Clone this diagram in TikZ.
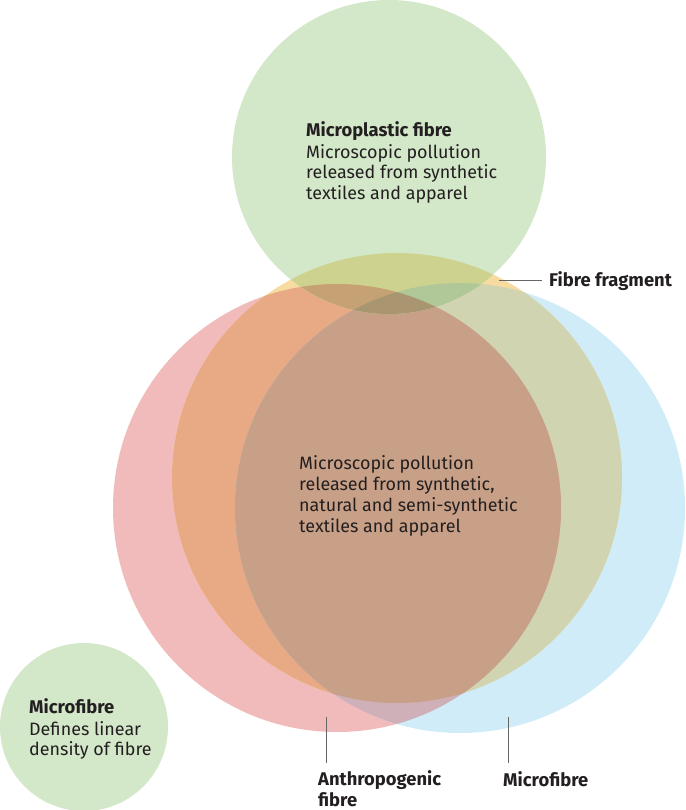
\documentclass[tikz,border=0pt]{standalone}
\usepackage{fontspec}
\setmainfont{Fira Sans}
\definecolor{cR}{HTML}{F2BBBB}
\definecolor{cB}{HTML}{D0ECF9}
\definecolor{cY}{HTML}{F6DCA0}
\definecolor{cRY}{HTML}{E8AA85}
\definecolor{cBY}{HTML}{D0D4B0}
\definecolor{cRB}{HTML}{D0B0B8}
\definecolor{cRBY}{HTML}{C8A087}
\definecolor{cG}{HTML}{D3E7C9}
\definecolor{cGY}{HTML}{CED28F}
\definecolor{cGYR}{HTML}{C6A173}
\definecolor{cGYB}{HTML}{B0C897}
\definecolor{cGYRB}{HTML}{A99670}
\definecolor{ink}{HTML}{231F20}
\definecolor{leader}{HTML}{666666}
\begin{document}
\begin{tikzpicture}[x=1pt,y=-1pt,
  body/.style={font=\fontsize{17.9}{20.7}\selectfont, text=ink, align=left, inner sep=0pt, anchor=base west},
  lab/.style={font=\fontsize{18.4}{20.7}\selectfont\bfseries, text=ink, align=left, inner sep=0pt, anchor=base west},
  leadline/.style={draw=leader, line width=1pt}]
\useasboundingbox (0,0) rectangle (685,810);
\def\Rc{(337,508) circle (224)}
\def\Bc{(460,508) circle (225)}
\def\Yc{(397,478) circle (225)}
\def\Gc{(389,157) circle (157)}
\def\Sc{(84,727) circle (84)}
% single circles
\fill[cR] \Rc;
\fill[cB] \Bc;
\fill[cY] \Yc;
% pairs
\begin{scope}\clip \Rc; \fill[cRY] \Yc; \end{scope}
\begin{scope}\clip \Bc; \fill[cBY] \Yc; \end{scope}
\begin{scope}\clip \Rc; \fill[cRB] \Bc; \end{scope}
% triple
\begin{scope}\clip \Rc; \clip \Bc; \fill[cRBY] \Yc; \end{scope}
% green top circle
\fill[cG] \Gc;
\begin{scope}\clip \Gc; \fill[cGY] \Yc; \end{scope}
\begin{scope}\clip \Gc; \clip \Yc; \fill[cGYR] \Rc; \end{scope}
\begin{scope}\clip \Gc; \clip \Yc; \fill[cGYB] \Bc; \end{scope}
\begin{scope}\clip \Gc; \clip \Yc; \clip \Rc; \fill[cGYRB] \Bc; \end{scope}
% small green circle
\fill[cG] \Sc;

% texts (base anchor = baseline of last line)
\node[lab] (mpt) at (306,137) {Microplastic fibre};
\node[body] (mpb) at (306,199.4) {Microscopic pollution\\released from synthetic\\textiles and apparel};
\node[body] (ctr) at (299,532) {Microscopic pollution\\released from synthetic,\\natural and semi-synthetic\\textiles and apparel};
\node[lab] (mft) at (29,713) {Microfibre};
\node[body] (mfb) at (29,755.7) {Defines linear\\density of fibre};
\node[lab] (ff) at (549,286) {Fibre fragment};
\node[lab] (anth) at (318,806) {Anthropogenic\\fibre};
\node[lab] (micro) at (503,786) {Microfibre};

% leaders
\coordinate (ffend) at (499,280);
\coordinate (ffstart) at (542,280);
\coordinate (anthend) at (326,717);
\coordinate (anthstart) at (326,763);
\coordinate (microend) at (508,717);
\coordinate (microstart) at (508,763);
\draw[leadline] (ffstart) -- (ffend);
\draw[leadline] (anthstart) -- (anthend);
\draw[leadline] (microstart) -- (microend);
\end{tikzpicture}
\end{document}
